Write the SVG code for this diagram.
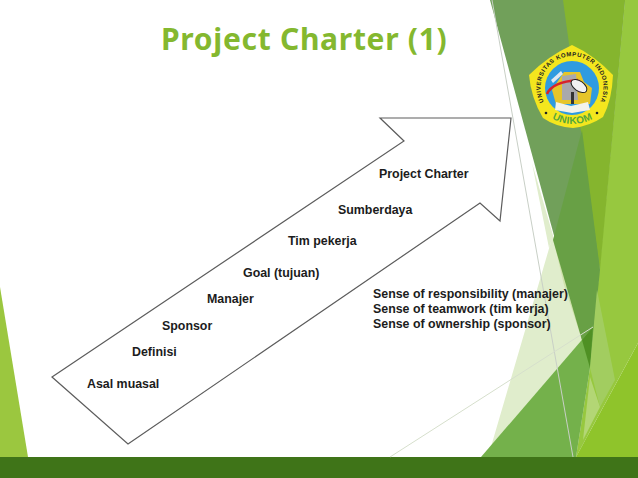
<svg xmlns="http://www.w3.org/2000/svg" width="638" height="478" viewBox="0 0 638 478">
<style>
.t{font-family:"Liberation Sans",Arial,sans-serif;font-weight:700;font-size:12.4px;fill:#1c1c1c}
.title{font-family:"Noto Sans","DejaVu Sans",sans-serif;font-weight:700;font-size:30px;fill:#84b82f;letter-spacing:.7px}
.lg{font-family:"Liberation Sans",Arial,sans-serif;font-weight:700;font-size:6px;fill:#222;letter-spacing:.55px}
.uk{font-family:"Liberation Sans",Arial,sans-serif;font-weight:700;font-size:10px;fill:#55a63c;letter-spacing:.4px}
</style>
<defs>
<path id="arcTop" d="M545 104 A31.5 31.5 0 1 1 599 104"/>
<path id="arcBot" d="M549 117 Q572 131 596 117"/>
</defs>
<rect width="638" height="478" fill="#fff"/>
<g id="background">
<polygon points="553,235 488,457 585,457 600,340 566,280 532,163 549,248" fill="#e0edcc"/>
<polygon points="553,238 600,340 582,340 564,285" fill="#cfe2ab"/>
<polygon points="576,457 638,343 638,457" fill="#8fc42b"/>
<polygon points="625,0 638,0 638,343 576,457 590,368" fill="#97c83f"/>
<polygon points="490,0 625,0 590,368" fill="#71a05a"/>
<polygon points="563,0 625,0 600,270" fill="#85b52e"/>
<polygon points="582,130 600,270 590,368 553,240" fill="#68a045"/>
<polygon points="481,457 593,327 590,368 576,457" fill="#74b14b"/>
<polygon points="582,340 593,327 590,368" fill="#4f9024"/>
<polygon points="597,290 615,380 600,407 590,368" fill="#a2cd60"/>
<polygon points="590,377 600,407 583,440" fill="#b3d675"/>
<polygon points="0,287 28,457 0,457" fill="#9bc73f"/>
<rect y="457" width="638" height="21" fill="#3f7418"/>
<line x1="492" y1="0" x2="573" y2="457" stroke="#c8cfc6" stroke-width="1"/>
<line x1="390" y1="457" x2="593" y2="327" stroke="#d6dfcc" stroke-width="1"/>
</g>
<g id="logo">
<path d="M572 45 Q594 55 613 75 Q612 100 603 117 Q590 126 573 128 Q556 127 543 118 Q531 98 529 75 Q548 56 572 45Z" fill="#f4e61e"/>
<circle cx="572" cy="88" r="27" fill="#2f9be0"/>
<polygon points="564,72 580,72 584,82 592,88 590,104 556,104 552,90" fill="#e6c52a"/>
<polygon points="562,76 576,74 578,100 562,100" fill="#a9a9ad"/>
<polygon points="551,80 561,71 563,74 553,83" fill="#dfe8f2"/>
<path d="M547 94 Q552 82 578 80" fill="none" stroke="#d8232a" stroke-width="2.5"/>
<ellipse cx="579" cy="86" rx="9" ry="5" transform="rotate(35 579 86)" fill="#f2f2f2" stroke="#222" stroke-width="1"/>
<rect x="571" y="92" width="3" height="12" fill="#333"/>
<polygon points="556,102 571,106 588,102 590,110 572,113 555,110" fill="#f3f3ea"/>
<circle cx="546" cy="113" r="1.3" fill="#222"/>
<circle cx="597" cy="113" r="1.3" fill="#222"/>
<text class="lg"><textPath href="#arcTop" startOffset="50%" text-anchor="middle">UNIVERSITAS KOMPUTER INDONESIA</textPath></text>
<text class="uk"><textPath href="#arcBot" startOffset="50%" text-anchor="middle">UNIKOM</textPath></text>
</g>
<g id="title"><text class="title" x="161" y="50">Project Charter (1)</text></g>
<g id="connectors"></g>
<g id="arrow"><polygon points="52,377 404,141 380,118 511,118 500,221 480,203 128,444" fill="none" stroke="#5c5c5c" stroke-width="1.2"/></g>
<g id="stage-labels">
<text class="t" x="379" y="178">Project Charter</text>
<text class="t" x="338" y="214">Sumberdaya</text>
<text class="t" x="288" y="245">Tim pekerja</text>
<text class="t" x="243" y="277">Goal (tujuan)</text>
<text class="t" x="207" y="303">Manajer</text>
<text class="t" x="162" y="330">Sponsor</text>
<text class="t" x="132" y="356">Definisi</text>
<text class="t" x="87" y="388">Asal muasal</text>
</g>
<g id="sense-labels">
<text class="t" x="373" y="298">Sense of responsibility (manajer)</text>
<text class="t" x="373" y="313">Sense of teamwork (tim kerja)</text>
<text class="t" x="373" y="328">Sense of ownership (sponsor)</text>
</g>
</svg>
